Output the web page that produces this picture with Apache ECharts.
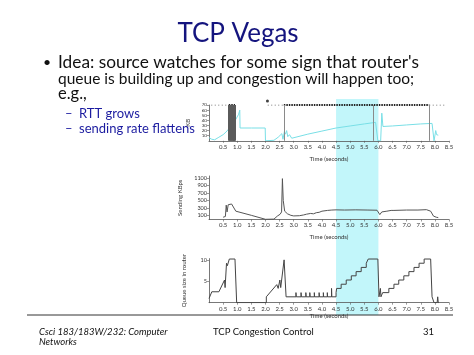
<!DOCTYPE html>
<html><head><meta charset="utf-8">
<script src="https://cdn.jsdelivr.net/npm/echarts@6/dist/echarts.min.js"></script>
<style>html,body{margin:0;padding:0;background:#fff}#c{width:474px;height:355px}</style>
</head><body><div id="c"></div>
<script>
// ---- data ----
const timeTicks = [0.5,1.0,1.5,2.0,2.5,3.0,3.5,4.0,4.5,5.0,5.5,6.0,6.5,7.0,7.5,8.0,8.5];
const kbTicks = [10,20,30,40,50,60,70];
const rateTicks = [100,300,500,700,900,1100];
const queueTicks = [5,10];
const highlightSpan = [4.5, 6.0];

// top panel: congestion window (KB), cyan
const congestionWindow = [
  [0,6],[0.1,3],[0.2,2],[0.35,7],[0.5,12],[0.6,17],[0.68,22],[0.8,32],[0.95,42],[1.05,52],[1.09,60],[1.1,25],
  [1.5,25],[1.99,25],[2.0,0],[2.3,1],[2.45,7],[2.58,14],[2.62,3],[2.67,18],[2.71,13],[2.75,20],[2.79,8],
  [2.85,12],[2.9,15],[2.93,5],[3.0,5],[3.5,13],[4.0,19],[4.5,25],[5.0,29],[5.5,33],[5.9,36],[5.96,36],
  [5.98,0],[6.08,0],[6.12,54],[6.16,28],[6.5,29],[7.0,31],[7.5,33],[7.9,34],[7.95,34],[7.97,0],[8.01,0],
  [8.03,20],[8.06,12],[8.12,11]
];
// top panel: gray vertical event lines (seconds)
const timeoutLines = [2.65, 5.8, 7.8];
const burstLines = [0.71,0.74,0.77,0.8,0.83,0.86,0.89,0.92];
// top panel: transmission dots at the top (start, end)
const sparseDots = [[0.08,0.7],[2.08,2.65],[7.8,8.42]];
const denseDots = [[0.7,0.92],[2.65,7.8]];
const strayDot = [[2.07,78]];

// middle panel: sending rate (KBps)
const sendingRate = [
  [0.5,60],[0.58,80],[0.61,380],[0.64,200],[0.68,390],[0.72,410],[0.8,410],[0.86,360],[0.95,220],
  [1.5,110],[2.0,5],[2.3,10],[2.42,90],[2.52,140],[2.57,200],[2.6,1080],[2.63,500],[2.68,220],[2.78,150],
  [2.9,110],[3.0,95],[3.2,100],[3.35,120],[3.45,140],[3.5,130],[3.6,160],[3.7,150],[3.8,180],[3.9,190],
  [4.0,220],[4.02,260],[4.05,220],[4.2,240],[4.35,250],[4.5,255],[4.8,250],[5.2,255],[5.6,250],[5.95,245],
  [6.05,130],[6.12,200],[6.3,220],[6.45,240],[6.5,270],[6.55,240],[7.0,250],[7.4,250],[7.7,260],[7.76,280],
  [7.85,220],[7.95,90],[8.05,60],[8.12,50]
];

// bottom panel: queue size in router
const queueSize = [
  [0,1],[0.1,2.6],[0.35,2.6],[0.55,5.4],[0.57,3.6],[0.62,9.4],[0.65,8.8],[0.72,10.4],[0.92,10.4],[0.98,0],
  [2.03,0],[2.03,1.4],[2.4,4.3],[2.45,3.4],[2.51,5.4],[2.54,3.6],[2.66,10.2],[2.73,1.4],
  [3.08,1.4],[3.08,2.4],[3.09,1.4],[3.26,1.4],[3.26,2.4],[3.27,1.4],[3.43,1.4],[3.43,2.4],[3.44,1.4],
  [3.57,1.4],[3.57,2.4],[3.58,1.4],[3.73,1.4],[3.73,2.4],[3.74,1.4],[3.9,1.4],[3.9,2.4],[3.91,1.4],
  [4.05,1.4],[4.05,2.4],[4.06,1.4],[4.19,1.4],[4.19,2.4],[4.2,1.4],[4.34,1.4],[4.34,3.4],[4.35,1.4],
  [4.5,1.4],[4.5,2.4],[4.52,2.4],[4.52,3.4],[4.68,3.4],[4.68,4.4],[4.86,4.4],[4.86,5.4],[5.04,5.4],[5.04,6.4],
  [5.21,6.4],[5.21,7.4],[5.39,7.4],[5.39,8.4],[5.57,8.4],[5.57,9.4],[5.64,9.4],[5.64,10.4],[5.98,10.4],
  [6.02,1.4],[6.05,1.4],[6.07,3.4],[6.09,1.4],[6.15,1.4],[6.15,2.4],[6.37,2.4],[6.37,3.4],[6.55,3.4],[6.55,4.4],
  [6.72,4.4],[6.72,5.4],[6.9,5.4],[6.9,6.4],[7.08,6.4],[7.08,7.4],[7.26,7.4],[7.26,8.4],[7.44,8.4],[7.44,9.4],
  [7.62,9.4],[7.62,10.4],[7.85,10.4],[7.9,1.4],[7.95,1.4],[7.97,0],[8.08,0],[8.1,1.4],[8.12,0],[8.15,0]
];

// ---- chart ----
const chart = echarts.init(document.getElementById('c'));
const FONT = 'Lato, "DejaVu Sans", sans-serif';
const grids = [
  {left:209, right:25, top:105, height:35.8},
  {left:209, right:25, top:176, height:43.5},
  {left:209, right:25, top:258.6, height:44.1}
];
function xAx(i, gap){
  return {
    type:'value', gridIndex:i, min:0, max:8.5, interval:0.5,
    axisLine:{show:true, lineStyle:{color:'#555', width:0.8}},
    axisTick:{show:true, length:2, lineStyle:{color:'#555', width:0.6}, customValues: timeTicks},
    axisLabel:{fontSize:6, color:'#333', margin:3, fontFamily:FONT, customValues: timeTicks,
      showMaxLabel:true, formatter: v => v.toFixed(1)},
    splitLine:{show:false},
    name:'Time (seconds)', nameLocation:'middle', nameGap:gap,
    nameTextStyle:{fontSize:6, color:'#333', fontFamily:FONT}
  };
}
function yAx(i, max, ticks, name, gap, fs){
  return {
    type:'value', gridIndex:i, min:0, max:max,
    axisLine:{show:true, lineStyle:{color:'#555', width:0.8}},
    axisTick:{show:true, length:2, lineStyle:{color:'#555', width:0.6}, customValues: ticks},
    axisLabel:{fontSize:fs, lineHeight:fs, color:'#333', margin:2, fontFamily:FONT, customValues: ticks,
      showMaxLabel:true, showMinLabel:true, hideOverlap:false, formatter: v => String(v)},
    splitLine:{show:false},
    name:name, nameLocation:'middle', nameRotate:90, nameGap:gap,
    nameTextStyle:{fontSize:6, color:'#333', fontFamily:FONT}
  };
}
function dotSeries(segs, width, dash, color){
  return segs.map(s => ({
    type:'line', xAxisIndex:0, yAxisIndex:0, symbol:'none', silent:true, z:4,
    data:[[s[0],70],[s[1],70]],
    lineStyle:{color:color, width:width, type:dash}
  }));
}

const series = [
  {
    type:'line', xAxisIndex:0, yAxisIndex:0, data:congestionWindow, symbol:'none', z:3,
    lineStyle:{color:'#79dfe6', width:1},
    markLine:{
      silent:true, symbol:'none', label:{show:false}, animation:false,
      data: timeoutLines.map(t => ({xAxis:t, lineStyle:{color:'#8a8a8a', width:1, type:'solid'}}))
        .concat(burstLines.map(t => ({xAxis:t, lineStyle:{color:'#5a5a5a', width:2, type:'solid'}})))
    }
  },
  ...dotSeries(sparseDots, 1.2, [1,2.5], '#555'),
  ...dotSeries(denseDots, 1.8, [1.5,1], '#222'),
  {type:'scatter', xAxisIndex:0, yAxisIndex:0, data:strayDot, symbolSize:3, clip:false,
   itemStyle:{color:'#111'}},
  {type:'line', xAxisIndex:1, yAxisIndex:1, data:sendingRate, symbol:'none',
   lineStyle:{color:'#555', width:1}},
  {type:'line', xAxisIndex:2, yAxisIndex:2, data:queueSize, symbol:'none',
   lineStyle:{color:'#444', width:1}}
];

function slideText(bandRect){
  const g = [];
  if (bandRect) g.push(bandRect);
  g.push(
    {type:'text', z:10, style:{text:'TCP Vegas', x:238, y:34, font:'26px '+FONT, fill:'#14147e', align:'center', verticalAlign:'middle'}},
    {type:'text', z:10, style:{text:'•', x:47, y:62, font:'14px '+FONT, fill:'#111', align:'center', verticalAlign:'middle'}},
    {type:'text', z:10, style:{text:"Idea: source watches for some sign that router's", x:58, y:62, font:'17.3px '+FONT, fill:'#111', verticalAlign:'middle'}},
    {type:'text', z:10, style:{text:'queue is building up and congestion will happen too;', x:58, y:78.5, font:'15.5px '+FONT, fill:'#111', verticalAlign:'middle'}},
    {type:'text', z:10, style:{text:'e.g.,', x:58, y:94, font:'16.5px '+FONT, fill:'#111', verticalAlign:'middle'}},
    {type:'text', z:10, style:{text:'–', x:65, y:113.5, font:'13px '+FONT, fill:'#1c1ca0', verticalAlign:'middle'}},
    {type:'text', z:10, style:{text:'RTT grows', x:79, y:113.5, font:'13px '+FONT, fill:'#1c1ca0', verticalAlign:'middle'}},
    {type:'text', z:10, style:{text:'–', x:65, y:128.5, font:'13px '+FONT, fill:'#1c1ca0', verticalAlign:'middle'}},
    {type:'text', z:10, style:{text:'sending rate flattens', x:79, y:128.5, font:'13px '+FONT, fill:'#1c1ca0', verticalAlign:'middle'}},
    {type:'line', z:10, shape:{x1:27, y1:315, x2:453, y2:315}, style:{stroke:'#333', lineWidth:1}},
    {type:'text', z:10, style:{text:'Csci 183/183W/232: Computer', x:39, y:331.5, font:'italic 9.5px '+FONT, fill:'#111', verticalAlign:'middle'}},
    {type:'text', z:10, style:{text:'Networks', x:39, y:341.5, font:'italic 9.5px '+FONT, fill:'#111', verticalAlign:'middle'}},
    {type:'text', z:10, style:{text:'TCP Congestion Control', x:213, y:331.5, font:'9.5px '+FONT, fill:'#111', verticalAlign:'middle'}},
    {type:'text', z:10, style:{text:'31', x:423, y:331.5, font:'9.5px '+FONT, fill:'#111', verticalAlign:'middle'}}
  );
  return g;
}

chart.setOption({
  animation:false,
  grid: grids,
  xAxis: [xAx(0, 15), xAx(1, 15), xAx(2, 10)],
  yAxis: [
    {...yAx(0, 70, kbTicks, 'KB', 12, 4.6)},
    {...yAx(1, 1150, rateTicks, 'Sending KBps', 20, 5.5)},
    {...yAx(2, 10.5, queueTicks, 'Queue size in router', 22, 5.5)}
  ],
  series: series,
  graphic: slideText(null)
});

const bx1 = chart.convertToPixel({xAxisIndex:0}, highlightSpan[0]);
const bx2 = chart.convertToPixel({xAxisIndex:0}, highlightSpan[1]);
chart.setOption({
  graphic: slideText({type:'rect', z:-10, shape:{x:bx1, y:99, width:bx2-bx1, height:216}, style:{fill:'#c2f6fa'}})
}, {replaceMerge:['graphic']});
</script>
</body></html>
